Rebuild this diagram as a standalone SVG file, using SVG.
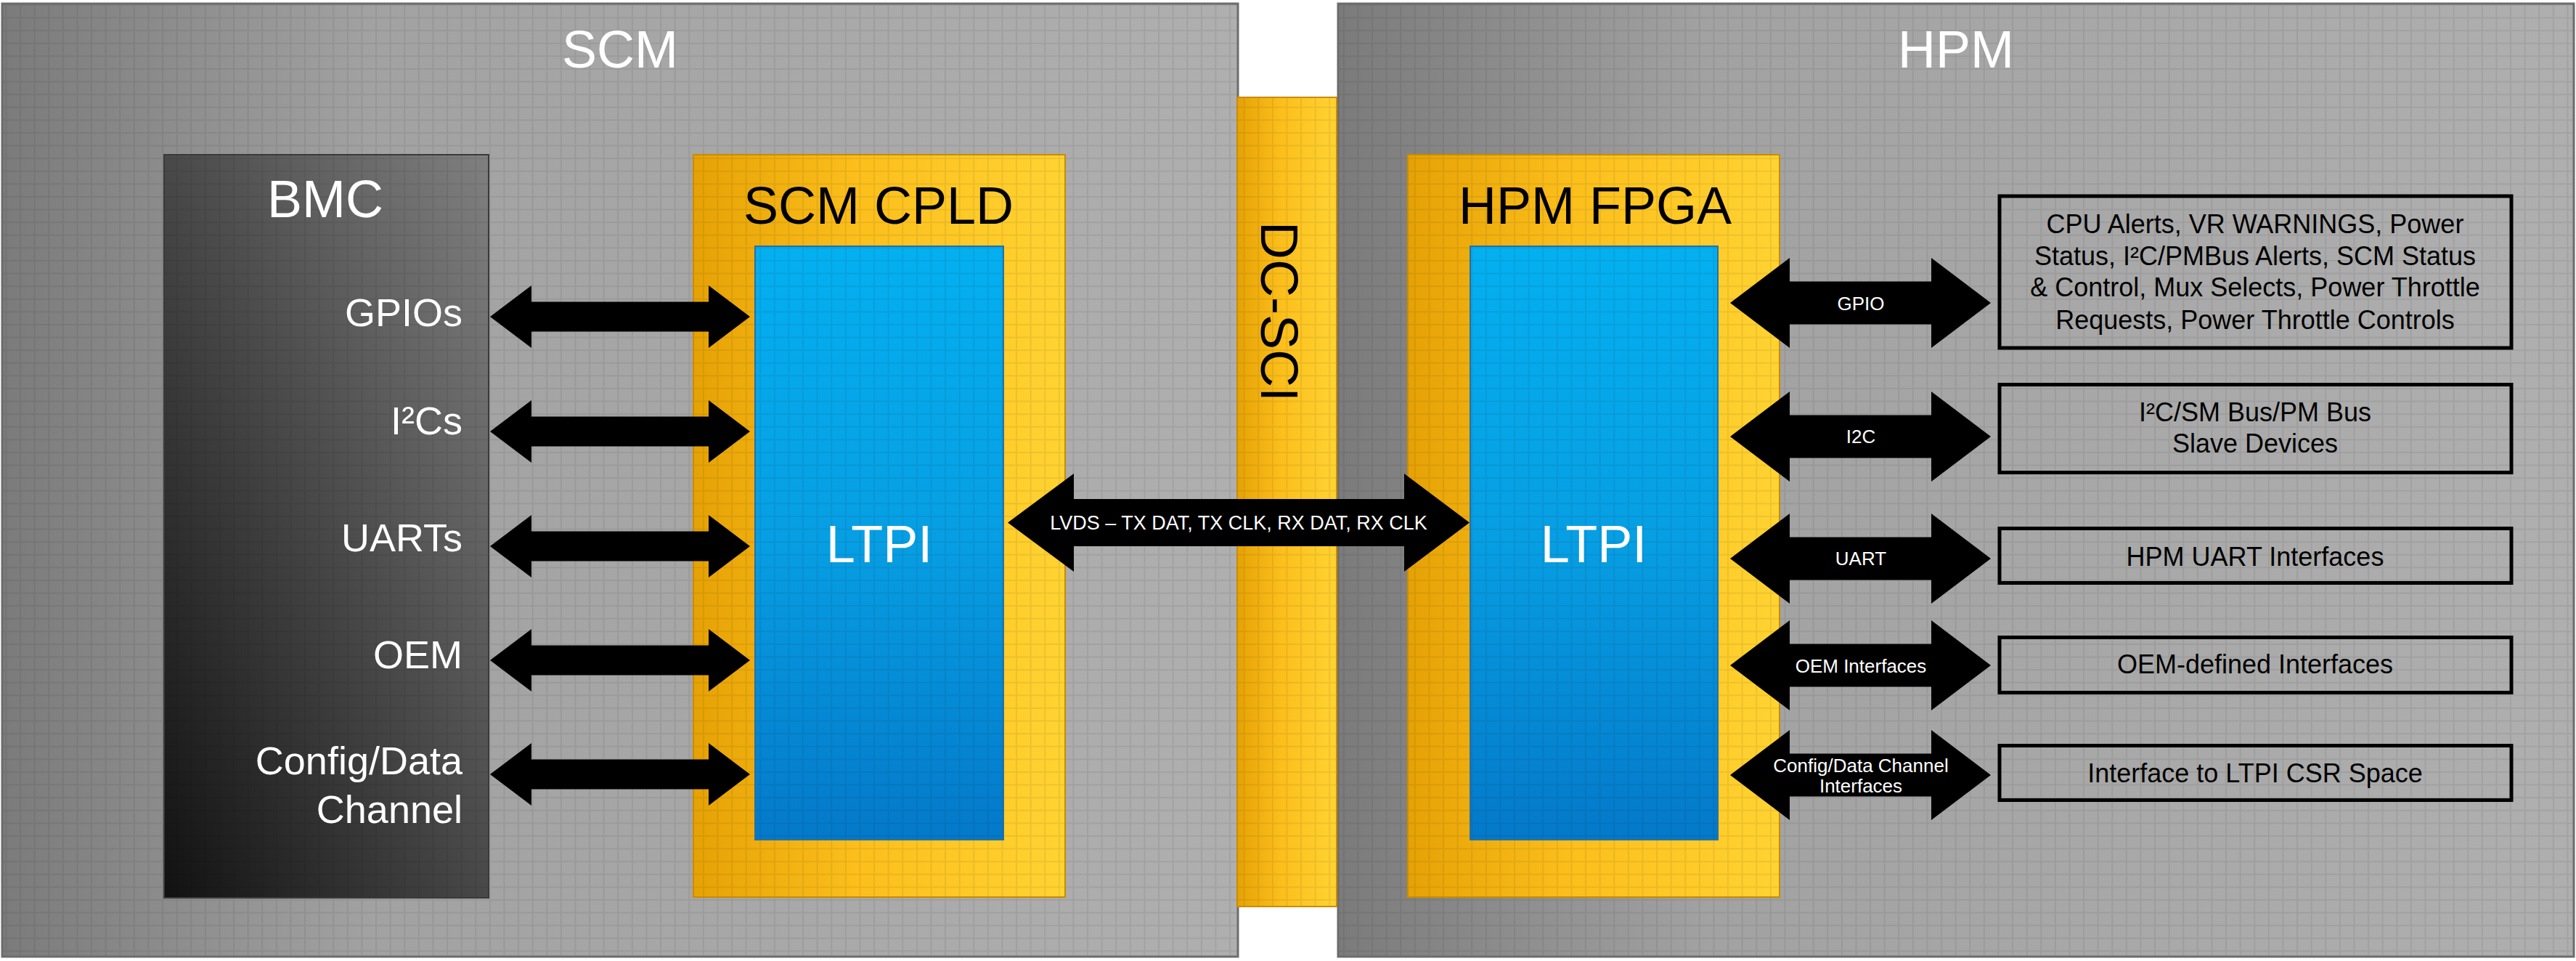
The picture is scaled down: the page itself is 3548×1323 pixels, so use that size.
<svg xmlns="http://www.w3.org/2000/svg" width="3548" height="1323" viewBox="0 0 3548 1323">
<style>
.t{font-family:"Liberation Sans",Arial,Helvetica,sans-serif}
.title{font-size:72px;text-anchor:middle}
.w{fill:#fff}
.k{fill:#000}
.lbl{font-size:54px;text-anchor:end;fill:#fff}
.al{font-size:26px;fill:#fff;text-anchor:middle}
.bx{fill:none;stroke:#000;stroke-width:5}
.bt{font-size:36px;text-anchor:middle;fill:#000}
.grid{fill:url(#grid)}
.arrow{fill:#000}
.gray{fill:url(#gGray);stroke:#6c6c6c;stroke-width:3}
.yel{fill:url(#gYel);stroke:#c98c00;stroke-width:2}
.blue{fill:url(#gBlue);stroke:#2a6fa6;stroke-width:2}
</style>
<defs>
 <linearGradient id="gGray" x1="0" y1="0" x2="1" y2="0">
  <stop offset="0" stop-color="#7b7b7b"/>
  <stop offset="0.3" stop-color="#a2a2a2"/>
  <stop offset="1" stop-color="#afafaf"/>
 </linearGradient>
 <linearGradient id="gBmc" x1="0" y1="1" x2="1" y2="0">
  <stop offset="0" stop-color="#111111"/>
  <stop offset="1" stop-color="#808080"/>
 </linearGradient>
 <linearGradient id="gYel" x1="0" y1="0" x2="1" y2="0">
  <stop offset="0" stop-color="#e6a205"/>
  <stop offset="0.45" stop-color="#fcbf1c"/>
  <stop offset="1" stop-color="#ffd332"/>
 </linearGradient>
 <linearGradient id="gBlue" x1="0" y1="0" x2="0" y2="1">
  <stop offset="0" stop-color="#04b0f0"/>
  <stop offset="0.5" stop-color="#079ee3"/>
  <stop offset="1" stop-color="#0479c9"/>
 </linearGradient>
 <pattern id="grid" patternUnits="userSpaceOnUse" x="7.5" y="6" width="19.6" height="17.6">
  <path d="M0.9,0 V17.6 M0,0.9 H19.6" stroke="#000" stroke-opacity="0.075" stroke-width="1.8" fill="none"/>
 </pattern>
 <path id="arrL" d="M675,0 L732,-43 L732,-20.5 L976,-20.5 L976,-43 L1033,0 L976,43 L976,20.5 L732,20.5 L732,43 Z"/>
 <path id="arrR" d="M2383,0 L2465,-62 L2465,-29.5 L2660,-29.5 L2660,-62 L2742,0 L2660,62 L2660,29.5 L2465,29.5 L2465,62 Z"/>
</defs>

<g id="scm">
 <rect class="gray" x="3" y="5" width="1702" height="1312"/>
 <rect class="grid" x="4.5" y="6.5" width="1699" height="1309"/>
 <text class="t title w" x="854" y="93">SCM</text>
</g>

<g id="hpm">
 <rect class="gray" x="1843" y="5" width="1702" height="1312"/>
 <rect class="grid" x="1844.5" y="6.5" width="1699" height="1309"/>
 <text class="t title w" x="2694" y="93">HPM</text>
</g>

<g id="dc-sci">
 <rect class="yel" x="1704" y="134" width="137" height="1114"/>
 <rect class="grid" x="1705" y="135" width="135" height="1112"/>
 <text class="t title k" transform="translate(1737,429) rotate(90)">DC-SCI</text>
</g>

<g id="bmc">
 <rect x="226" y="213" width="447" height="1023" fill="url(#gBmc)" stroke="#3a3a3a" stroke-width="2"/>
 <rect class="grid" x="227" y="214" width="445" height="1021"/>
 <text class="t title w" x="448" y="299">BMC</text>
 <text class="t lbl" x="637" y="449">GPIOs</text>
 <text class="t lbl" x="637" y="598">I²Cs</text>
 <text class="t lbl" x="637" y="759">UARTs</text>
 <text class="t lbl" x="637" y="920">OEM</text>
 <text class="t lbl" x="637" y="1066">Config/Data</text>
 <text class="t lbl" x="637" y="1133">Channel</text>
</g>

<g id="scm-cpld">
 <rect class="yel" x="955" y="213" width="512" height="1022"/>
 <rect class="grid" x="956" y="214" width="510" height="1020"/>
 <text class="t title k" x="1210" y="308">SCM CPLD</text>
</g>

<g id="scm-ltpi">
 <rect class="blue" x="1040" y="339" width="342" height="817"/>
 <rect class="grid" x="1041" y="340" width="340" height="815"/>
 <text class="t title w" x="1211" y="774">LTPI</text>
</g>

<g id="hpm-fpga">
 <rect class="yel" x="1939" y="213" width="512" height="1022"/>
 <rect class="grid" x="1940" y="214" width="510" height="1020"/>
 <text class="t title k" x="2197" y="308">HPM FPGA</text>
</g>

<g id="hpm-ltpi">
 <rect class="blue" x="2025" y="339" width="341" height="817"/>
 <rect class="grid" x="2026" y="340" width="339" height="815"/>
 <text class="t title w" x="2195" y="774">LTPI</text>
</g>

<g id="box-gpio">
 <rect class="bx" x="2754" y="270" width="705" height="209"/>
 <text class="t bt" x="3106" y="321">CPU Alerts, VR WARNINGS, Power</text>
 <text class="t bt" x="3106" y="365">Status, I²C/PMBus Alerts, SCM Status</text>
 <text class="t bt" x="3106" y="408">&amp; Control, Mux Selects, Power Throttle</text>
 <text class="t bt" x="3106" y="453">Requests, Power Throttle Controls</text>
</g>

<g id="box-i2c">
 <rect class="bx" x="2754" y="529.5" width="705" height="121"/>
 <text class="t bt" x="3106" y="580">I²C/SM Bus/PM Bus</text>
 <text class="t bt" x="3106" y="623">Slave Devices</text>
</g>

<g id="box-uart">
 <rect class="bx" x="2754" y="727.5" width="705" height="75"/>
 <text class="t bt" x="3106" y="779">HPM UART Interfaces</text>
</g>

<g id="box-oem">
 <rect class="bx" x="2754" y="877.5" width="705" height="76"/>
 <text class="t bt" x="3106" y="927">OEM-defined Interfaces</text>
</g>

<g id="box-csr">
 <rect class="bx" x="2754" y="1026.5" width="705" height="75"/>
 <text class="t bt" x="3106" y="1077">Interface to LTPI CSR Space</text>
</g>

<g id="connectors">
 <use href="#arrL" class="arrow" transform="translate(0,436)"/>
 <use href="#arrL" class="arrow" transform="translate(0,594)"/>
 <use href="#arrL" class="arrow" transform="translate(0,752)"/>
 <use href="#arrL" class="arrow" transform="translate(0,909)"/>
 <use href="#arrL" class="arrow" transform="translate(0,1066)"/>

 <path class="arrow" d="M1388,719.5 L1479,652 L1479,687 L1934,687 L1934,652 L2024,719.5 L1934,787 L1934,752 L1479,752 L1479,787 Z"/>
 <text class="t" x="1706" y="729" font-size="27" fill="#fff" text-anchor="middle">LVDS – TX DAT, TX CLK, RX DAT, RX CLK</text>

 <use href="#arrR" class="arrow" transform="translate(0,417)"/>
 <use href="#arrR" class="arrow" transform="translate(0,601)"/>
 <use href="#arrR" class="arrow" transform="translate(0,769)"/>
 <use href="#arrR" class="arrow" transform="translate(0,916)"/>
 <use href="#arrR" class="arrow" transform="translate(0,1067)"/>
 <text class="t al" x="2563" y="427">GPIO</text>
 <text class="t al" x="2563" y="610">I2C</text>
 <text class="t al" x="2563" y="778">UART</text>
 <text class="t al" x="2563" y="926">OEM Interfaces</text>
 <text class="t al" x="2563" y="1063">Config/Data Channel</text>
 <text class="t al" x="2563" y="1091">Interfaces</text>
</g>
</svg>
